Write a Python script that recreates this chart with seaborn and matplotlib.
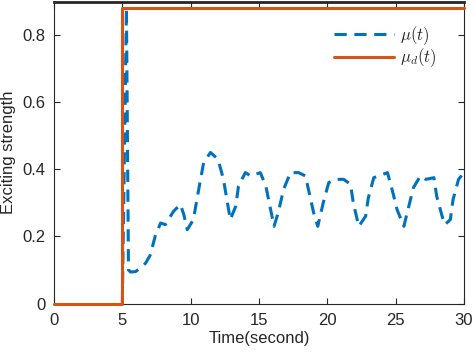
# Exciting strength: actual mu(t) vs desired mu_d(t)
import pandas as pd
import seaborn as sns
import matplotlib.pyplot as plt

sns.set_style('ticks')
plt.rcParams['font.family'] = ['Liberation Sans', 'DejaVu Sans']
plt.rcParams['mathtext.fontset'] = 'cm'

blue = '#0072BD'
red = '#D95319'

# data (mu is hidden under mu_d before t=5)
t_mu = [5.0, 5.3, 5.45, 5.6, 5.96, 6.3, 6.7, 7.05, 7.4, 7.8, 8.15, 8.75,
        9.25, 9.5, 9.75, 10.2, 10.5, 10.95, 11.45, 12.0, 12.4, 12.9, 13.3,
        13.5, 14.0, 14.4, 15.1, 15.5, 16.1, 16.4, 16.8, 17.3, 17.9, 18.4,
        19.0, 19.3, 19.7, 20.1, 20.6, 21.2, 21.7, 21.9, 22.3, 22.8, 23.0,
        23.4, 24.4, 24.8, 25.1, 25.6, 25.9, 26.3, 26.8, 27.2, 27.8, 28.0,
        28.4, 28.6, 29.0, 29.2, 29.6, 30.0]
mu = [0, 0.88, 0.10, 0.094, 0.095, 0.105, 0.12, 0.145, 0.20, 0.24, 0.235, 0.275,
      0.295, 0.265, 0.22, 0.25, 0.32, 0.42, 0.45, 0.43, 0.37, 0.25, 0.29,
      0.35, 0.39, 0.38, 0.39, 0.35, 0.23, 0.27, 0.34, 0.39, 0.39, 0.38,
      0.27, 0.23, 0.30, 0.36, 0.37, 0.37, 0.355, 0.30, 0.23, 0.26, 0.315,
      0.375, 0.39, 0.33, 0.28, 0.23, 0.28, 0.345, 0.38, 0.37, 0.375, 0.32,
      0.26, 0.235, 0.25, 0.31, 0.37, 0.39]
t_mud = [0, 5, 5, 30]
mud = [0, 0, 0.88, 0.88]

df_mu = pd.DataFrame({'Time': t_mu, 'val': mu})
df_mud = pd.DataFrame({'Time': t_mud, 'val': mud})

fig = plt.figure(figsize=(4.74, 3.54), dpi=100)
ax = fig.add_axes([54/474, (354-303.5)/354, 410/474, 302/354])

sns.lineplot(ax=ax, data=df_mu, x='Time', y='val', sort=False, estimator=None,
             color=blue, lw=2.2, label=r'$\mu(t)$')
line_mu = ax.lines[-1]
line_mu.set_dashes((4, 2.5))
line_mu.set_zorder(2)
sns.lineplot(ax=ax, data=df_mud, x='Time', y='val', sort=False, estimator=None,
             color=red, lw=2.2, label=r'$\mu_d(t)$')
ax.lines[-1].set_zorder(4)
ax.lines[-1].set_clip_on(False)

ax.set_xlim(0, 30)
ax.set_ylim(0, 0.9)
ax.set_xticks([0, 5, 10, 15, 20, 25, 30])
ax.set_yticks([0, 0.2, 0.4, 0.6, 0.8])
ax.set_yticklabels(['0', '0.2', '0.4', '0.6', '0.8'])
ax.set_xlabel('Time(second)', fontsize=12, labelpad=2)
ax.set_ylabel('Exciting strength', fontsize=12, labelpad=5)
ax.tick_params(direction='in', top=True, right=True, labelsize=12,
               length=4, width=0.8, colors='#262626')
ax.tick_params(axis='x', pad=7)
ax.tick_params(axis='y', pad=6)
for s in ax.spines.values():
    s.set_visible(True)
    s.set_color('#262626')
    s.set_linewidth(0.8)
ax.spines['top'].set_linewidth(2)

ax.legend(loc='upper right', bbox_to_anchor=(0.97, 0.975), frameon=False,
          fontsize=12, handlelength=3.6, handletextpad=0.4, labelspacing=0.0)

fig.savefig('out.png', dpi=100)
